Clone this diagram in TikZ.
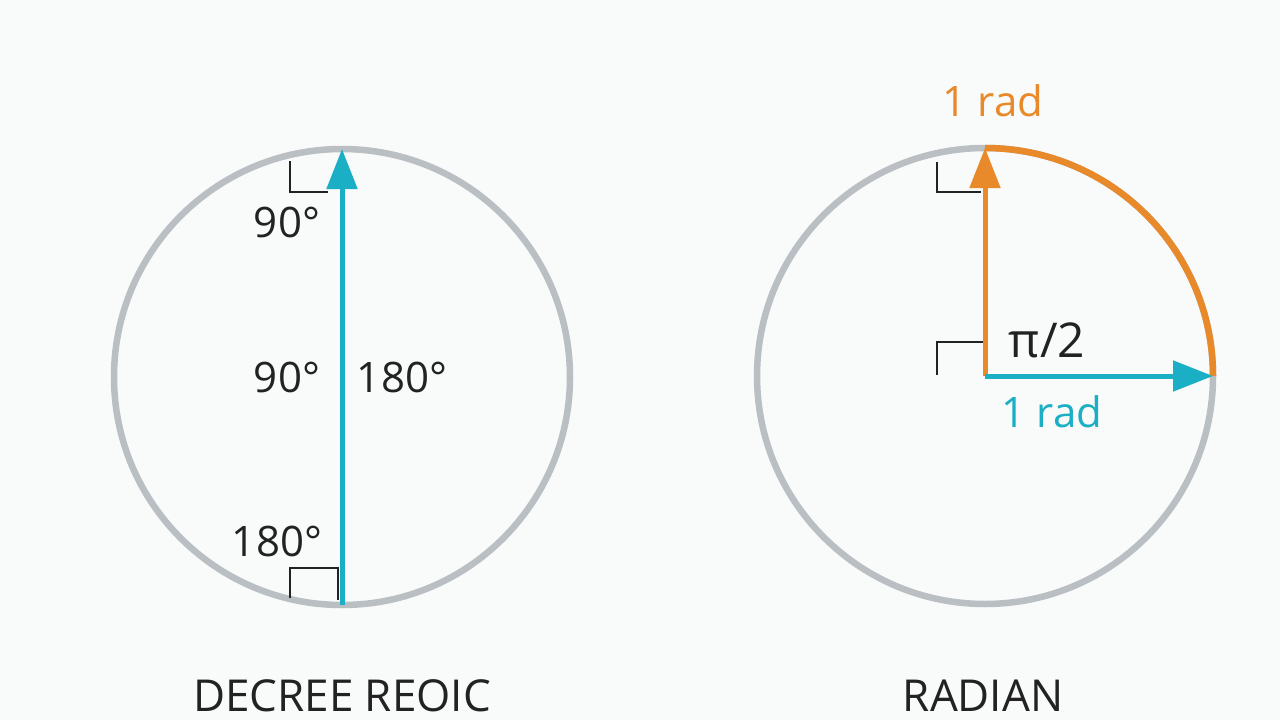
\documentclass[tikz,border=0pt]{standalone}
\usepackage{fontspec}
\setmainfont{Open Sans}
\usetikzlibrary{arrows.meta}
\definecolor{bg}{HTML}{F9FAFA}
\definecolor{ring}{HTML}{B9BFC3}
\definecolor{teal}{HTML}{1AAFC4}
\definecolor{orng}{HTML}{E8892A}
\definecolor{ink}{HTML}{222222}
\tikzset{
  ringc/.style={circle, draw=ring, line width=6.5pt, minimum size=456pt, inner sep=0pt, outer sep=0pt},
  vec/.style={line width=5pt, -{Triangle[length=40pt,width=30pt]}},
  rmark/.style={draw=ink, line width=2.5pt},
  lbl/.style={text=ink, font=\fontsize{42}{46}\selectfont, inner sep=0pt},
  title/.style={text=ink, font=\fontsize{44}{48}\selectfont, inner sep=0pt, anchor=base, text depth=0pt}
}
\begin{document}
\begin{tikzpicture}[x=1pt,y=-1pt]
\useasboundingbox (0,0) rectangle (1280,720);
\fill[bg] (0,0) rectangle (1280,720);
% left circle
\node[ringc] (L) at (342,377) {};
\draw[rmark] (290,161) -- (290,192) -- (328,192);
\draw[rmark] (290,598) -- (290,568) -- (338,568) -- (338,600);
\draw[vec, teal] (L.south) -- (L.north);
\node[lbl] (l90a) at (287,222) {90°};
\node[lbl] (l90b) at (287,377) {90°};
\node[lbl] (l180a) at (402,377) {180°};
\node[lbl] (l180b) at (277,541) {180°};
% right circle
\node[ringc] (R) at (985,376) {};
\draw[rmark] (937,162) -- (937,192) -- (981,192);
\draw[rmark] (937,375) -- (937,342) -- (983,342);
\draw[orng, line width=6.5pt] (R.north) arc[start angle=-90, end angle=0, radius=228];
\draw[vec, orng] (R.center) -- (R.north);
\draw[vec, teal] (R.center) -- (R.east);
\node[lbl, font=\fontsize{48}{52}\selectfont] (pi) at (1047,340) {π/2};
\node[lbl, text=orng] (rad1) at (993,101) {1 rad};
\node[lbl, text=teal] (rad2) at (1052,412) {1 rad};
% titles
\node[title] (tdeg) at (342,711) {DECREE REOIC};
\node[title] (trad) at (983,711) {RADIAN};
\end{tikzpicture}
\end{document}
